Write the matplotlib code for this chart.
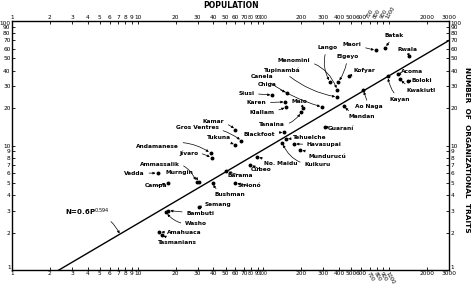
import numpy as np
import matplotlib
matplotlib.use('Agg')
import matplotlib.pyplot as plt
from matplotlib import font_manager

# ---------------- data ----------------
societies = ["Maori", "Batak", "Rwala", "Lango", "Elgeyo", "Menomini", "Tupinambá",
             "Kofyar", "Acoma", "Kwakiutl", "Boloki", "Kayan", "Ao Naga", "Mandan",
             "Canela", "Chiga", "Siusi", "Karen", "Klallam", "Malo", "Tanaina",
             "Blackfoot", "Kamar", "Gros Ventres", "Tukuna", "Andamanese", "Jívaro",
             "Ammassalik", "Murngin", "Vedda", "Campa", "Barama", "Sirionó", "Bushman",
             "Cubeo", "No. Maidu", "Semang", "Bambuti", "Washo", "Amahuaca", "Tasmanians",
             "Guaraní", "Tehuelche", "Havasupai", "Mundurucú", "Kuikuru"]
population = [788, 929, 1442, 340, 394, 387, 387,
              481, 1179, 1223, 1415, 980, 622, 439,
              294, 155, 118, 150, 152, 208, 200,
              147, 60, 67, 60, 38, 38.7,
              29.4, 31, 14.4, 17.3, 50.9, 60, 39.4,
              78.9, 89.6, 30.5, 17.5, 16.8, 14.9, 15.5,
              311, 152, 176, 197, 141.5]
traits = [58, 61, 52, 32.4, 32.4, 27.9, 24.5,
          36.2, 37.5, 34.2, 33.0, 35.9, 28.0, 20.8,
          20.4, 26.4, 25.4, 22.4, 20.4, 20.0, 18.5,
          12.8, 13.4, 10.9, 10.1, 8.7, 7.9,
          5.1, 5.1, 6.0, 5.0, 6.2, 5.0, 5.0,
          7.0, 8.1, 3.2, 3.0, 2.9, 2.02, 1.91,
          14.1, 11.3, 10.3, 9.2, 10.5]

fit_coef = 0.6
fit_exp = 0.594
fit_label_population = 7.2

x_tick_values = [1, 2, 3, 4, 5, 6, 7, 8, 9, 10, 20, 30, 40, 50, 60, 70, 80, 90, 100,
                 200, 300, 400, 500, 600, 700, 800, 900, 1000, 2000, 3000]
x_tick_labels = [str(v) for v in x_tick_values]
rotated_x_ticks = [700, 800, 900, 1000]
y_tick_values = [1, 2, 3, 4, 5, 6, 7, 8, 9, 10, 20, 30, 40, 50, 60, 70, 80, 90, 100]
y_tick_labels = [str(v) for v in y_tick_values]

# label layout: offset of label centre from point in pixels (dx right, dy down), arrow curvature
label_layout = {
    "Maori": (-24, -6, 0.0), "Batak": (9, -12, 0.0), "Rwala": (-2, -7, 0.0),
    "Lango": (-3, -34, 0.25), "Elgeyo": (9, -25, -0.15), "Menomini": (-43, -30, -0.35),
    "Tupinambá": (-55, -27, 0.15), "Kofyar": (15, -5, 0.0), "Acoma": (14, -3, 0.0),
    "Kwakiutl": (21, 11, -0.2), "Boloki": (14, 0, 0.0), "Kayan": (12, 23, -0.2),
    "Ao Naga": (6, 17, 0.0), "Mandan": (18, 11, -0.2), "Canela": (-60, -30, 0.1),
    "Chiga": (-20, -9, 0.0), "Siusi": (-26, -2, 0.0), "Karen": (-29, 1, 0.0),
    "Klallam": (-24, 6, 0.1), "Malo": (-4, -7, 0.0), "Tanaina": (-29, 12, 0.35),
    "Blackfoot": (-25, 2, 0.0), "Kamar": (-22, -8, -0.2), "Gros Ventres": (-44, -13, -0.2),
    "Tukuna": (-16, -7, 0.0), "Andamanese": (-53, -7, -0.25), "Jívaro": (-23, -5, -0.2),
    "Ammassalik": (-37, -17, -0.45), "Murngin": (-20, -9, -0.3), "Vedda": (-23, 0, 0.0),
    "Campa": (-12, 3, 0.0), "Barama": (14, 4, 0.0), "Sirionó": (14, 3, 0.0),
    "Bushman": (17, 12, -0.3), "Cubeo": (11, 5, 0.0), "No. Maidu": (23, 7, 0.0),
    "Semang": (19, -3, 0.0), "Bambuti": (32, 3, 0.0), "Washo": (30, 11, -0.3),
    "Amahuaca": (25, 1, 0.0), "Tasmanians": (16, 7, 0.0), "Guaraní": (16, 2, 0.0),
    "Tehuelche": (24, -1, 0.0), "Havasupai": (30, 1, 0.0), "Mundurucú": (27, 6, 0.0),
    "Kuikuru": (35, 22, -0.35),
}

# ---------------- figure ----------------
plt.rcParams['font.family'] = ['DejaVu Sans']
narrow = 'DejaVu Sans'
for f in font_manager.fontManager.ttflist:
    if f.name == 'Liberation Sans Narrow':
        narrow = 'Liberation Sans Narrow'
        break

fig = plt.figure(figsize=(4.74, 2.85), dpi=100)
ax = fig.add_axes([12/474, 15/285, 437/474, 249/285])
ax.set_xscale('log')
ax.set_yscale('log')
ax.set_xlim(1, 3000)
ax.set_ylim(1, 100)

# fit line
p_line = np.logspace(0, np.log10(3000), 300)
ax.plot(p_line, fit_coef * p_line ** fit_exp, color='black', lw=1.0)

# points
ax.plot(population, traits, 'o', ms=1.8, color='black', mec='black')

px2pt = 72 / 100
for name, p, n in zip(societies, population, traits):
    dx, dy, rad = label_layout[name]
    ax.annotate(name, xy=(p, n), xytext=(dx * px2pt, -dy * px2pt),
                textcoords='offset points', ha='center', va='center',
                fontsize=4.2, fontweight='bold',
                arrowprops=dict(arrowstyle='-|>', mutation_scale=3.5, lw=0.5,
                                color='black', shrinkA=1.0, shrinkB=1.5,
                                connectionstyle=f"arc3,rad={rad}"))

# equation label
n_fit = fit_coef * fit_label_population ** fit_exp
ax.annotate(r'N=0.6P$^{0.594}$', xy=(fit_label_population, n_fit),
            xytext=(-32 * px2pt, 22 * px2pt), textcoords='offset points',
            ha='center', va='center', fontsize=5, fontweight='bold',
            arrowprops=dict(arrowstyle='-|>', mutation_scale=3.5, lw=0.5, color='black',
                            shrinkA=1.0, shrinkB=0.5, connectionstyle="arc3,rad=-0.3"))

# ticks
ax.xaxis.set_minor_locator(matplotlib.ticker.NullLocator())
ax.yaxis.set_minor_locator(matplotlib.ticker.NullLocator())
ax.set_xticks(x_tick_values)
ax.set_xticklabels(x_tick_labels)
ax.set_yticks(y_tick_values)
ax.set_yticklabels(y_tick_labels)
ax.tick_params(axis='both', which='major', direction='in', length=2.5, width=0.6,
               labelsize=4.2, pad=1.0, top=True, labeltop=True, right=True, labelright=True)
for tick in ax.xaxis.get_major_ticks() + ax.yaxis.get_major_ticks():
    tick.label1.set_family(narrow)
    tick.label2.set_family(narrow)
    tick.label1.set_fontsize(4.2)
    tick.label2.set_fontsize(4.2)
for tick, val in zip(ax.xaxis.get_major_ticks(), x_tick_values):
    if val in rotated_x_ticks:
        tick.label1.set_rotation(-60)
        tick.label1.set_ha('left')
        tick.label1.set_va('top')
        tick.label1.set_rotation_mode('anchor')
        tick.label1.set_fontsize(3.8)
        tick.label2.set_rotation(60)
        tick.label2.set_ha('left')
        tick.label2.set_va('bottom')
        tick.label2.set_rotation_mode('anchor')
        tick.label2.set_fontsize(3.8)
    if val in (80, 90, 100):
        tick.label1.set_fontsize(3.4)
        tick.label2.set_fontsize(3.4)
for tick, val in zip(ax.yaxis.get_major_ticks(), y_tick_values):
    if val == 1:
        tick.label1.set_va('bottom')
        tick.label2.set_va('bottom')
    if val == 100:
        tick.label1.set_va('top')
        tick.label2.set_va('top')

for sp in ax.spines.values():
    sp.set_linewidth(1.0)

fig.text(231/474, 1 - 5/285, 'POPULATION', ha='center', va='center',
         fontsize=5.5, fontweight='bold')
fig.text(467/474, 1 - 150/285, 'NUMBER  OF  ORGANIZATIONAL  TRAITS', ha='center',
         va='center', rotation=-90, fontsize=5.3, fontweight='bold')

fig.savefig('out.png', dpi=100)
